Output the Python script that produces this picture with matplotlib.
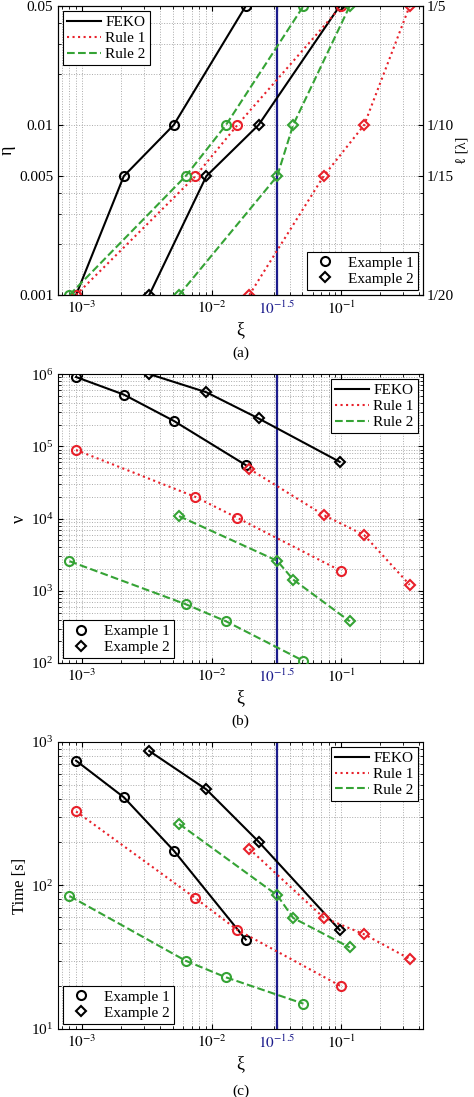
import matplotlib
matplotlib.use("Agg")
import matplotlib.pyplot as plt
from matplotlib.lines import Line2D
from matplotlib.ticker import FixedLocator, NullFormatter

plt.rcParams['font.family'] = ['Liberation Serif', 'DejaVu Serif']
plt.rcParams['mathtext.fontset'] = 'stix'
plt.rcParams['font.size'] = 10

# eta levels (panel a y-values) and matching element size labels
eta = [0.001, 0.005, 0.01, 0.05]
ell_labels = ['1/20', '1/15', '1/10', '1/5']

# xi values for each method / example
xi_feko_1 = [9.0e-4, 2.1e-3, 5.1e-3, 0.0183]
xi_feko_2 = [3.3e-3, 9.1e-3, 0.023, 0.097]
xi_rule1_1 = [9.0e-4, 7.5e-3, 0.0158, 0.100]
xi_rule1_2 = [0.0195, 0.073, 0.150, 0.336]
xi_rule2_1 = [8.0e-4, 6.3e-3, 0.0129, 0.051]
xi_rule2_2 = [5.6e-3, 0.032, 0.0425, 0.116]

# panel b: nu (number of unknowns)
nu_feko_1 = [9.1e5, 5.2e5, 2.25e5, 5.5e4]
nu_feko_2 = [1.0e6, 5.6e5, 2.43e5, 6.1e4]
nu_rule1_1 = [8.9e4, 1.99e4, 1.02e4, 1.87e3]
nu_rule1_2 = [4.87e4, 1.12e4, 5.9e3, 1.21e3]
nu_rule2_1 = [2.57e3, 652, 378, 107]
nu_rule2_2 = [1.08e4, 2.6e3, 1.43e3, 378]

# panel c: time [s]
t_feko_1 = [741, 412, 175, 42]
t_feko_2 = [866, 467, 202, 49]
t_rule1_1 = [328, 81.5, 49, 19.8]
t_rule1_2 = [180, 59.7, 45.7, 30.8]
t_rule2_1 = [84.5, 29.9, 22.9, 15.0]
t_rule2_2 = [269, 85.5, 59.4, 37]

xi_ref = 10 ** -1.5
xticks = [1e-3, 1e-2, xi_ref, 1e-1]
xticklabels = ['$10^{-3}$', '$10^{-2}$', '$10^{-1.5}$', '$10^{-1}$']

BLACK = 'black'
RED = '#e8202a'
GREEN = '#35a335'
NAVY = '#1c1c8c'

fig = plt.figure(figsize=(4.74, 10.97), dpi=100)
ax_a = fig.add_axes([0.1224, 0.7311, 0.770, 0.2634])
ax_b = fig.add_axes([0.1224, 0.3956, 0.770, 0.2634])
ax_c = fig.add_axes([0.1224, 0.0620, 0.770, 0.2616])


def draw_series(ax, ys):
    series = [
        (xi_feko_1, ys[0], BLACK, '-', 'o'),
        (xi_feko_2, ys[1], BLACK, '-', 'D'),
        (xi_rule1_1, ys[2], RED, ':', 'o'),
        (xi_rule1_2, ys[3], RED, ':', 'D'),
        (xi_rule2_1, ys[4], GREEN, '--', 'o'),
        (xi_rule2_2, ys[5], GREEN, '--', 'D'),
    ]
    for x, y, c, ls, m in series:
        ms = 6.5 if m == 'o' else 5.5
        ax.plot(x, y, color=c, linestyle=ls, linewidth=1.5, marker=m,
                markersize=ms, markerfacecolor='none', markeredgewidth=1.5,
                zorder=3)


def style_axis(ax):
    ax.set_xscale('log')
    ax.set_xlim(6.53e-4, 0.426)
    ax.axvline(xi_ref, color=NAVY, linewidth=1.6, zorder=2)
    ax.xaxis.set_major_locator(FixedLocator(xticks))
    ax.set_xticklabels(xticklabels)
    ax.get_xticklabels()[2].set_color(NAVY)
    ax.xaxis.set_minor_formatter(NullFormatter())
    ax.grid(True, which='both', linestyle=':', color='#aaaaaa', linewidth=0.7)
    ax.tick_params(which='both', direction='in', top=True, right=True)
    ax.tick_params(axis='both', labelsize=11)
    ax.set_xlabel('ξ', fontsize=13, labelpad=3)
    ax.set_axisbelow(True)


def add_legends(ax, loc_lines, loc_marks):
    line_handles = [
        Line2D([], [], color=BLACK, linestyle='-', linewidth=1.5),
        Line2D([], [], color=RED, linestyle=':', linewidth=1.5),
        Line2D([], [], color=GREEN, linestyle='--', linewidth=1.5),
    ]
    leg1 = ax.legend(line_handles, ['FEKO', 'Rule 1', 'Rule 2'], loc=loc_lines,
                     fancybox=False, edgecolor='black', framealpha=1,
                     fontsize=11, handlelength=2.2, borderaxespad=0.3,
                     labelspacing=0.15, handletextpad=0.3, borderpad=0.3)
    leg1.get_frame().set_linewidth(0.8)
    ax.add_artist(leg1)
    mark_handles = [
        Line2D([], [], color=BLACK, linestyle='none', marker='o', markersize=6.5,
               markerfacecolor='none', markeredgewidth=1.5),
        Line2D([], [], color=BLACK, linestyle='none', marker='D', markersize=5.5,
               markerfacecolor='none', markeredgewidth=1.5),
    ]
    leg2 = ax.legend(mark_handles, ['Example 1', 'Example 2'], loc=loc_marks,
                     fancybox=False, edgecolor='black', framealpha=1,
                     fontsize=11, handlelength=1.8, borderaxespad=0.3,
                     labelspacing=0.15, handletextpad=0.6, borderpad=0.3)
    leg2.get_frame().set_linewidth(0.8)


# (a)
style_axis(ax_a)
draw_series(ax_a, [eta] * 6)
ax_a.set_yscale('log')
ax_a.set_ylim(0.001, 0.05)
ax_a.yaxis.set_major_locator(FixedLocator(eta))
ax_a.yaxis.set_minor_locator(FixedLocator([0.002, 0.003, 0.004, 0.02, 0.03, 0.04]))
ax_a.set_yticklabels(['0.001', '0.005', '0.01', '0.05'])
ax_a.yaxis.set_minor_formatter(NullFormatter())
ax_a.set_ylabel('η', fontsize=13, labelpad=2)
ax_r = ax_a.twinx()
ax_r.set_yscale('log')
ax_r.set_ylim(0.001, 0.05)
ax_r.yaxis.set_major_locator(FixedLocator(eta))
ax_r.set_yticklabels(ell_labels)
ax_r.yaxis.set_minor_locator(FixedLocator([0.002, 0.003, 0.004, 0.02, 0.03, 0.04]))
ax_r.yaxis.set_minor_formatter(NullFormatter())
ax_r.tick_params(which='both', direction='in', labelsize=11, pad=3)
ax_r.set_ylabel('ℓ [λ]', fontsize=10.5, labelpad=1)
add_legends(ax_a, 'upper left', 'lower right')

# (b)
style_axis(ax_b)
draw_series(ax_b, [nu_feko_1, nu_feko_2, nu_rule1_1, nu_rule1_2, nu_rule2_1, nu_rule2_2])
ax_b.set_yscale('log')
ax_b.set_ylim(1e2, 1e6)
ax_b.yaxis.set_minor_formatter(NullFormatter())
ax_b.set_ylabel('ν', fontsize=13, labelpad=2)
add_legends(ax_b, 'upper right', 'lower left')

# (c)
style_axis(ax_c)
draw_series(ax_c, [t_feko_1, t_feko_2, t_rule1_1, t_rule1_2, t_rule2_1, t_rule2_2])
ax_c.set_yscale('log')
ax_c.set_ylim(10, 1000)
ax_c.yaxis.set_minor_formatter(NullFormatter())
ax_c.set_ylabel('Time [s]', fontsize=12, labelpad=2)
add_legends(ax_c, 'upper right', 'lower left')

cx = 0.1224 + 0.770 / 2
fig.text(cx, 1 - 353 / 1097, '(a)', ha='center', va='center', fontsize=11)
fig.text(cx, 1 - 721 / 1097, '(b)', ha='center', va='center', fontsize=11)
fig.text(cx, 1 - 1091 / 1097, '(c)', ha='center', va='center', fontsize=11)

fig.savefig('out.png', dpi=100)
